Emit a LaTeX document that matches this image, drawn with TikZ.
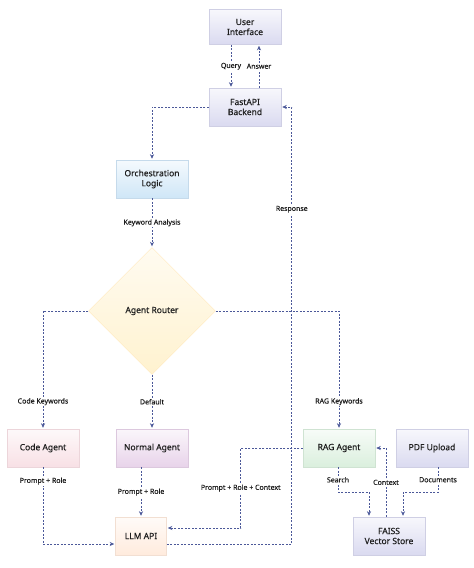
\documentclass[tikz,border=0pt]{standalone}
\usepackage{fontspec}
\setmainfont{Noto Sans}[FakeBold=0.35]
\usetikzlibrary{arrows.meta,shapes.geometric}

\definecolor{edgeblue}{HTML}{4B5899}
\definecolor{txt}{HTML}{1E1E1E}

\tikzset{
  box/.style={rectangle, line width=0.5pt, minimum width=72pt, minimum height=38pt,
    inner sep=2pt, align=center, text=txt, font=\fontsize{8.5}{10}\selectfont},
  lav/.style={box, draw=#1!95!black, top color=#1!20!white, bottom color=#1},
  flow/.style={draw=edgeblue, line width=0.55pt, dash pattern=on 2pt off 1.5pt,
    -{Stealth[length=4.5pt,width=4pt]}, shorten >=1pt},
  lbl/.style={fill=white, inner sep=1pt, text=txt, font=\fontsize{7}{8}\selectfont}
}
\definecolor{uicol}{HTML}{DADAF0}
\definecolor{orchcol}{HTML}{CFE6F7}
\definecolor{codecol}{HTML}{F8E0E5}
\definecolor{normcol}{HTML}{E8D3EA}
\definecolor{llmcol}{HTML}{FFEBDD}
\definecolor{ragcol}{HTML}{DAEFDD}
\definecolor{routercol}{HTML}{FFF2CF}

\begin{document}
\begin{tikzpicture}[x=1pt, y=-1pt]
  \useasboundingbox (0,0) rectangle (474,568);
  % boxes
  \node[lav=uicol, minimum height=35pt] (ui) at (245,27) {User\\Interface};
  \node[lav=uicol] (api) at (245,107) {FastAPI\\Backend};
  \node[lav=orchcol] (orch) at (152,179) {Orchestration\\Logic};
  \node[diamond, aspect=1, minimum size=127pt, inner sep=0pt, draw=routercol!90!orange,
    top color=routercol!30!white, bottom color=routercol, text=txt,
    font=\fontsize{8.5}{10}\selectfont] (router) at (152,311) {Agent Router};
  \node[lav=codecol] (code) at (43,448) {Code Agent};
  \node[lav=normcol] (normal) at (152,448) {Normal Agent};
  \node[lav=ragcol] (rag) at (339,448) {RAG Agent};
  \node[lav=uicol] (pdf) at (432,448) {PDF Upload};
  \node[lav=llmcol, minimum width=51pt] (llm) at (141,536) {LLM API};
  \node[lav=uicol] (faiss) at (389,536) {FAISS\\Vector Store};

  % flows
  \draw[flow] ([xshift=-14pt]ui.south) -- node[lbl] {Query} ([xshift=-14pt]api.north);
  \draw[flow] ([xshift=14pt]api.north) -- node[lbl] {Answer} ([xshift=14pt]ui.south);
  \draw[flow] (api.west) -| (orch.north);
  \draw[flow] (orch.south) -- node[lbl] {Keyword Analysis} (router.north);
  \draw[flow] (router.west) -| node[lbl, pos=0.885] {Code Keywords} (code.north);
  \draw[flow] (router.south) -- node[lbl] {Default} (normal.north);
  \draw[flow] (router.east) -| node[lbl, pos=0.885] {RAG Keywords} (rag.north);
  \draw[flow] (code.south) |- node[lbl, pos=0.09] {Prompt + Role} ([yshift=-8pt]llm.west);
  \draw[flow] (normal.south -| llm.north) -- node[lbl] {Prompt + Role} (llm.north);
  \draw[flow] (rag.west) -- ++(-62,0) |- node[lbl, pos=0.25] {Prompt + Role + Context} ([yshift=8pt]llm.east);
  \draw[flow] ([yshift=-8pt]llm.east) -- ++(125,0) |- node[lbl, pos=0.383] {Response} (api.east);
  \draw[flow] ([xshift=-1pt]rag.south) -- node[lbl] {Search} ++(0,25) -| ([xshift=-20pt]faiss.north);
  \draw[flow] ([xshift=-3pt]faiss.north) |- node[lbl, pos=0.25] {Context} (rag.east);
  \draw[flow] ([xshift=6pt]pdf.south) -- node[lbl] {Documents} ++(0,25) -| ([xshift=14pt]faiss.north);
\end{tikzpicture}
\end{document}
